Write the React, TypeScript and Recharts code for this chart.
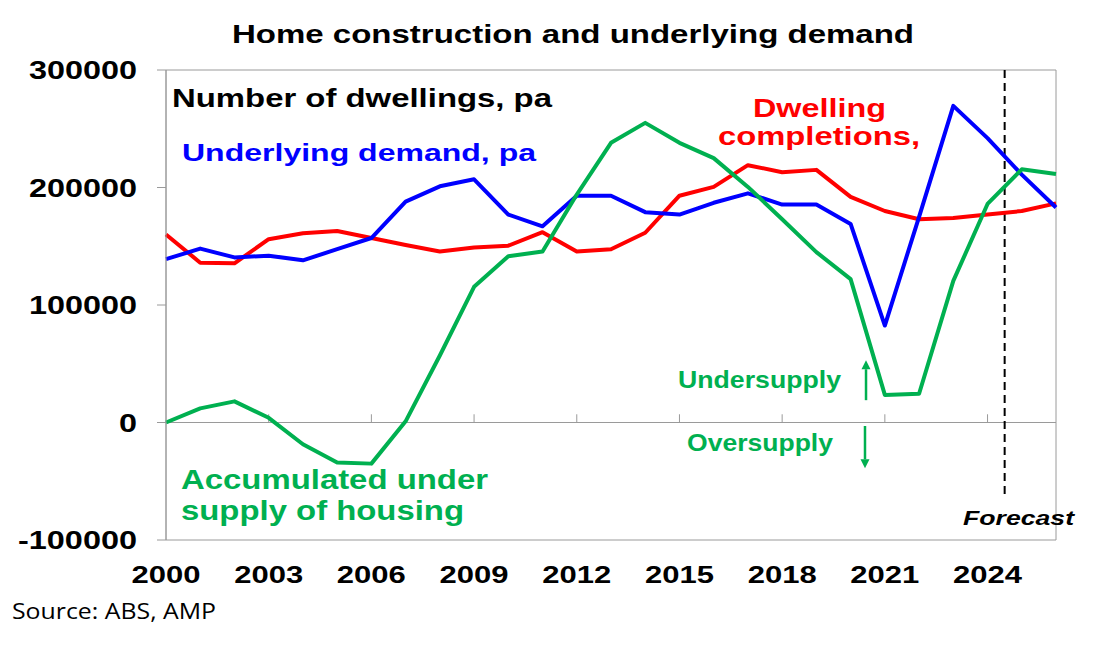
import React from 'react';
import { LineChart, Line, XAxis, YAxis, ReferenceLine, ReferenceArea } from 'recharts';

// Annual series, 2000–2026 (2025 onwards are forecasts)
const years = [
  2000, 2001, 2002, 2003, 2004, 2005, 2006, 2007, 2008, 2009, 2010, 2011, 2012, 2013,
  2014, 2015, 2016, 2017, 2018, 2019, 2020, 2021, 2022, 2023, 2024, 2025, 2026,
];
const underlyingDemand = [
  139000, 148000, 140500, 142000, 138000, 147500, 157000, 188000, 201000, 207000, 177000,
  167000, 193000, 193000, 179000, 177000, 187000, 195000, 185500, 185500, 169000, 82500,
  175000, 269500, 242000, 211000, 183000,
];
const dwellingCompletions = [
  160000, 136000, 135500, 156000, 161000, 163000, 157000, 151000, 145500, 149000, 150500,
  162000, 145500, 147500, 161500, 193000, 200500, 219000, 213000, 215000, 192000, 180000,
  173000, 174000, 177000, 180000, 186500,
];
const accumulatedUndersupply = [
  0, 12000, 18000, 4000, -18500, -34000, -35000, 1000, 57000, 115500, 141500, 145500,
  194000, 238000, 255000, 238000, 225000, 200500, 173000, 145000, 122000, 23500, 24500,
  120500, 186000, 215500, 211500,
];
const xTicks = [2000, 2003, 2006, 2009, 2012, 2015, 2018, 2021, 2024];
const yTicks = [-100000, 0, 100000, 200000, 300000];
const forecastStart = 2024.5;

const data = years.map((year, i) => ({
  year,
  demand: underlyingDemand[i],
  completions: dwellingCompletions[i],
  accumulated: accumulatedUndersupply[i],
}));

const BLUE = '#0000FF';
const RED = '#FF0000';
const GREEN = '#00B050';
const GRID = '#9a9a9a';
const FONT = '"Liberation Sans", Arial, Helvetica, sans-serif';

const XTick = (props: any) => {
  const { x, y, payload } = props;
  return (
    <text
      x={x - 34.5}
      y={y + 43}
      textLength={69}
      lengthAdjust="spacingAndGlyphs"
      fontFamily={FONT}
      fontWeight="bold"
      fontSize={23.5}
      fill="#000"
    >
      {payload.value}
    </text>
  );
};

const YTick = (props: any) => {
  const { x, y, payload } = props;
  const s = String(payload.value);
  const neg = s.startsWith('-');
  const w = s.replace('-', '').length * 18 + (neg ? 11 : 0);
  return (
    <text
      x={x - 20 - w}
      y={y + 9}
      textLength={w}
      lengthAdjust="spacingAndGlyphs"
      fontFamily={FONT}
      fontWeight="bold"
      fontSize={25.5}
      fill="#000"
    >
      {s}
    </text>
  );
};

const Arrow = (props: any) => {
  const { x1, y1, x2, y2 } = props;
  const dir = Math.sign(y2 - y1);
  const head = 9;
  const by = y2 - dir * head;
  return (
    <g>
      <line x1={x1} y1={y1} x2={x2} y2={by} stroke={GREEN} strokeWidth={2.5} />
      <polygon points={`${x2 - 4.5},${by} ${x2 + 4.5},${by} ${x2},${y2}`} fill={GREEN} />
    </g>
  );
};

type LabelProps = {
  x: number;
  y: number;
  w: number;
  size: number;
  color: string;
  italic?: boolean;
  weight?: string;
  family?: string;
  children: string;
};

const Label = ({ x, y, w, size, color, italic, weight = 'bold', family = FONT, children }: LabelProps) => (
  <text
    x={x}
    y={y}
    textLength={w}
    lengthAdjust="spacingAndGlyphs"
    fontFamily={family}
    fontWeight={weight}
    fontStyle={italic ? 'italic' : 'normal'}
    fontSize={size}
    fill={color}
  >
    {children}
  </text>
);

export default function App() {
  return (
    <div style={{ position: 'absolute', left: 0, top: 0, width: 1105, height: 648, background: '#fff' }}>
      <LineChart
        width={1105}
        height={648}
        data={data}
        margin={{ top: 70, right: 49, bottom: 0, left: 0 }}
      >
        <XAxis
          dataKey="year"
          type="number"
          domain={[2000, 2026]}
          ticks={xTicks}
          interval={0}
          axisLine={false}
          tickLine={false}
          tickSize={0}
          tickMargin={0}
          height={108}
          tick={<XTick />}
        />
        <YAxis
          type="number"
          domain={[-100000, 300000]}
          ticks={yTicks}
          interval={0}
          width={166}
          tickSize={9}
          tickMargin={0}
          axisLine={{ stroke: GRID, strokeWidth: 1 }}
          tickLine={{ stroke: GRID, strokeWidth: 1 }}
          tick={<YTick />}
        />
        <ReferenceArea
          x1={2000}
          x2={2026}
          y1={-100000}
          y2={300000}
          fill="none"
          stroke={GRID}
          strokeWidth={1}
        />
        <ReferenceLine y={0} stroke={GRID} strokeWidth={1} />
        {xTicks.slice(1).map((t) => (
          <ReferenceLine
            key={t}
            segment={[
              { x: t, y: 0 },
              { x: t, y: 7000 },
            ]}
            stroke={GRID}
            strokeWidth={1}
          />
        ))}
        <ReferenceLine
          segment={[
            { x: forecastStart, y: 300000 },
            { x: forecastStart, y: -64000 },
          ]}
          stroke="#000"
          strokeWidth={2}
          strokeDasharray="8 5"
        />
        <ReferenceLine
          segment={[
            { x: 2020.45, y: 19000 },
            { x: 2020.45, y: 53000 },
          ]}
          shape={Arrow}
        />
        <ReferenceLine
          segment={[
            { x: 2020.42, y: -3000 },
            { x: 2020.42, y: -39000 },
          ]}
          shape={Arrow}
        />
        <Line
          type="linear"
          dataKey="completions"
          stroke={RED}
          strokeWidth={4}
          strokeLinejoin="round"
          dot={false}
          isAnimationActive={false}
        />
        <Line
          type="linear"
          dataKey="demand"
          stroke={BLUE}
          strokeWidth={4}
          strokeLinejoin="round"
          dot={false}
          isAnimationActive={false}
        />
        <Line
          type="linear"
          dataKey="accumulated"
          stroke={GREEN}
          strokeWidth={4}
          strokeLinejoin="round"
          dot={false}
          isAnimationActive={false}
        />
      </LineChart>
      <svg
        width={1105}
        height={648}
        style={{ position: 'absolute', left: 0, top: 0, pointerEvents: 'none' }}
      >
        <Label x={232} y={43} w={682} size={26} color="#000">
          Home construction and underlying demand
        </Label>
        <Label x={172} y={107} w={380} size={25.5} color="#000">
          Number of dwellings, pa
        </Label>
        <Label x={182} y={161} w={354} size={24.5} color={BLUE}>
          Underlying demand, pa
        </Label>
        <Label x={753} y={117} w={133} size={25} color={RED}>
          Dwelling
        </Label>
        <Label x={718} y={145} w={202} size={25} color={RED}>
          completions,
        </Label>
        <Label x={181} y={489} w={307} size={28} color={GREEN}>
          Accumulated under
        </Label>
        <Label x={181} y={520} w={283} size={28} color={GREEN}>
          supply of housing
        </Label>
        <Label x={678} y={388} w={163} size={24} color={GREEN}>
          Undersupply
        </Label>
        <Label x={687} y={451} w={146} size={24} color={GREEN}>
          Oversupply
        </Label>
        <Label x={963} y={525} w={111} size={20} color="#000" italic>
          Forecast
        </Label>
        <Label
          x={12}
          y={619}
          w={204}
          size={22}
          color="#000"
          weight="normal"
          family={'"Open Sans", "Noto Sans", sans-serif'}
        >
          Source: ABS, AMP
        </Label>
      </svg>
    </div>
  );
}
